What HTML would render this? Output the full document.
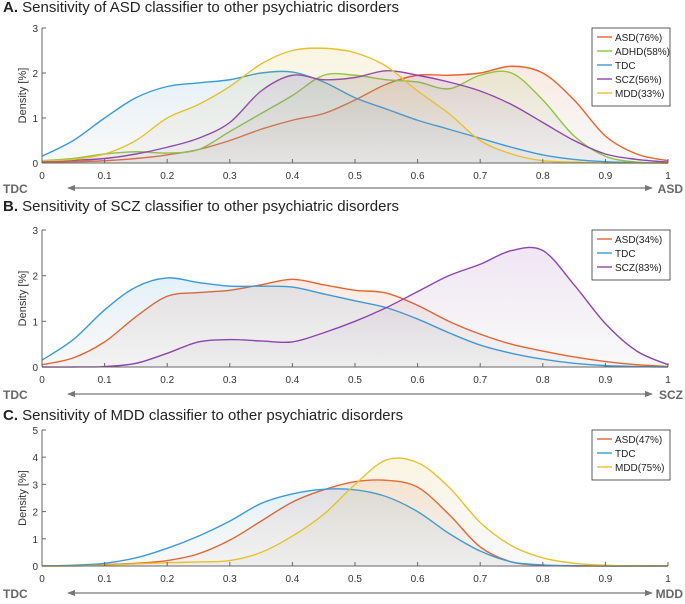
<!DOCTYPE html>
<html><head><meta charset="utf-8"><style>
body{margin:0;background:#fff;font-family:"Liberation Sans",sans-serif}
svg text{font-family:"Liberation Sans",sans-serif}
</style></head><body>
<svg id="s" width="685" height="599" xmlns="http://www.w3.org/2000/svg">
<defs>
<marker id="ah" viewBox="0 0 10 10" refX="9" refY="5" markerWidth="6" markerHeight="6" orient="auto-start-reverse"><path d="M0,1 L10,5 L0,9 z" fill="#777"/></marker>
</defs>
</svg>
<script>
const xs=[0,0.05,0.1,0.15,0.2,0.25,0.3,0.35,0.4,0.45,0.5,0.55,0.6,0.65,0.7,0.75,0.8,0.85,0.9,0.95,1];
const xTicks=[0,0.1,0.2,0.3,0.4,0.5,0.6,0.7,0.8,0.9,1];
const xTickLabels=['0','0.1','0.2','0.3','0.4','0.5','0.6','0.7','0.8','0.9','1'];
const aASD=[0.02,0.03,0.05,0.1,0.18,0.3,0.5,0.75,0.95,1.1,1.4,1.75,1.95,1.95,2.0,2.15,2.0,1.4,0.6,0.2,0.05];
const aADHD=[0.05,0.1,0.2,0.25,0.22,0.3,0.7,1.1,1.5,1.95,1.95,1.85,1.8,1.65,1.95,2.0,1.4,0.6,0.15,0.02,0];
const aTDC=[0.15,0.5,1.0,1.45,1.7,1.78,1.85,2.0,2.02,1.8,1.45,1.2,0.95,0.75,0.55,0.35,0.18,0.08,0.03,0.01,0];
const aSCZ=[0.03,0.06,0.1,0.2,0.35,0.55,0.9,1.6,1.95,1.85,1.9,2.05,1.95,1.8,1.6,1.3,0.9,0.5,0.2,0.08,0.02];
const aMDD=[0.05,0.08,0.2,0.5,1.0,1.3,1.7,2.2,2.5,2.55,2.45,2.15,1.6,1.1,0.5,0.2,0.05,0.02,0,0,0];
const bASD=[0.05,0.2,0.55,1.1,1.55,1.63,1.68,1.8,1.92,1.8,1.68,1.62,1.35,1.0,0.72,0.5,0.35,0.22,0.12,0.05,0.01];
const bTDC=[0.15,0.6,1.25,1.75,1.95,1.85,1.77,1.77,1.75,1.6,1.45,1.3,1.05,0.75,0.48,0.3,0.17,0.08,0.03,0.01,0];
const bSCZ=[0,0,0.01,0.08,0.3,0.55,0.6,0.57,0.55,0.75,1.0,1.3,1.65,2.0,2.25,2.55,2.55,1.8,0.95,0.35,0.05];
const cASD=[0,0.01,0.05,0.1,0.2,0.45,0.95,1.65,2.35,2.8,3.1,3.15,2.9,1.9,0.7,0.15,0.03,0,0,0,0];
const cTDC=[0,0.03,0.1,0.3,0.65,1.1,1.65,2.3,2.65,2.82,2.8,2.55,2.0,1.2,0.55,0.15,0.04,0.01,0,0,0];
const cMDD=[0,0,0.03,0.08,0.12,0.15,0.2,0.5,1.1,1.9,3.0,3.9,3.8,2.9,1.6,0.75,0.3,0.1,0.03,0,0];
const C={ASD:'#e8622c',ADHD:'#8dc63f',TDC:'#3a9ad9',SCZ:'#8e44ad',MDD:'#e6c12c'};
const NS='http://www.w3.org/2000/svg';
const svg=document.getElementById('s');
function mk(t,a,p){const e=document.createElementNS(NS,t);for(const k in a)e.setAttribute(k,a[k]);(p||svg).appendChild(e);return e;}
function path(pts){let d='M'+pts[0][0]+','+pts[0][1];for(let i=0;i<pts.length-1;i++){const p0=pts[Math.max(0,i-1)],p1=pts[i],p2=pts[i+1],p3=pts[Math.min(pts.length-1,i+2)];
d+=' C'+(p1[0]+(p2[0]-p0[0])/6)+','+(p1[1]+(p2[1]-p0[1])/6)+' '+(p2[0]-(p3[0]-p1[0])/6)+','+(p2[1]-(p3[1]-p1[1])/6)+' '+p2[0]+','+p2[1];}return d;}
let gid=0;
function panel(o){
 const g=mk('g',{});
 
 
 const x0=42,x1=668,y0=o.y0,yT=o.yT,ym=o.ymax;
 const X=v=>x0+(x1-x0)*v, Y=v=>y0-(y0-yT)*v/ym;
 const t=mk('text',{x:3,y:o.ty,'font-size':15,fill:'#222'},g);
 
 
 t.innerHTML='<tspan font-weight="bold">'+o.letter+'</tspan> '+o.title;
 o.series.forEach(s=>{
  const pts=xs.map((x,i)=>[X(x),Y(s.v[i])]);
  const id='g'+(gid++);
  const lg=mk('linearGradient',{id:id,x1:0,y1:0,x2:0,y2:1},svg.querySelector('defs'));
  mk('stop',{offset:0,'stop-color':C[s.k],'stop-opacity':0.14},lg);
  mk('stop',{offset:1,'stop-color':'#999','stop-opacity':0.06},lg);
  const d=path(pts);
  const f=mk('path',{d:d+' L'+X(1)+','+y0+' L'+X(0)+','+y0+' Z',fill:'url(#'+id+')'},g);
  
  
  const l=mk('path',{d:d,fill:'none',stroke:C[s.k],'stroke-width':1.4},g);
  
  
 });
 mk('line',{x1:x0,y1:yT,x2:x0,y2:y0,stroke:'#666'},g);
 mk('line',{x1:x0,y1:y0,x2:x1,y2:y0,stroke:'#666'},g);
 xTicks.forEach((v,i)=>{mk('line',{x1:X(v),y1:y0,x2:X(v),y2:y0-4,stroke:'#666'},g);
  const tl=mk('text',{x:X(v),y:y0+16,'font-size':10,'text-anchor':'middle',fill:'#333'},g);tl.textContent=xTickLabels[i];
  
  });
 for(let v=0;v<=ym;v++){mk('line',{x1:x0,y1:Y(v),x2:x0+4,y2:Y(v),stroke:'#666'},g);
  const tl=mk('text',{x:x0-4,y:Y(v)+4,'font-size':10,'text-anchor':'end',fill:'#333'},g);tl.textContent=v;
  
  }
 const yl=mk('text',{x:26,y:(y0+yT)/2,'font-size':11,'text-anchor':'middle',fill:'#333',transform:'rotate(-90 26 '+((y0+yT)/2)+')'},g);yl.textContent='Density [%]';
 
 
 const ay=o.ay;
 const a1=mk('text',{x:3,y:ay+5,'font-size':12,'font-weight':'bold',fill:'#666'},g);a1.textContent='TDC';
 
 
 const a2=mk('text',{x:683,y:ay+5,'font-size':12,'font-weight':'bold','text-anchor':'end',fill:'#666'},g);a2.textContent=o.right;
 
 
 mk('line',{x1:68,y1:ay,x2:652,y2:ay,stroke:'#777','stroke-width':1.3,'marker-start':'url(#ah)','marker-end':'url(#ah)'},g);
 const lw=78,lh=8+o.series.length*14;
 const lgd=mk('g',{},g);
 
 
 mk('rect',{x:592,y:yT,width:lw,height:lh,fill:'#fff',stroke:'#333','stroke-width':0.8},lgd);
 o.legendOrder.forEach((s,i)=>{const yy=yT+12+i*14;
  mk('line',{x1:597,y1:yy-3,x2:612,y2:yy-3,stroke:C[s.k],'stroke-width':1.4},lgd);
  const tx=mk('text',{x:615,y:yy+1,'font-size':10,fill:'#222'},lgd);tx.textContent=s.label;
  
  });
}
const A=[{k:'ASD',v:aASD,label:'ASD(76%)'},{k:'ADHD',v:aADHD,label:'ADHD(58%)'},{k:'TDC',v:aTDC,label:'TDC'},{k:'SCZ',v:aSCZ,label:'SCZ(56%)'},{k:'MDD',v:aMDD,label:'MDD(33%)'}];
panel({name:'panel-a',letter:'A.',title:'Sensitivity of ASD classifier to other psychiatric disorders',ty:12,y0:163,yT:28,ymax:3,ay:188,right:'ASD',series:A,legendOrder:A});
const B=[{k:'ASD',v:bASD,label:'ASD(34%)'},{k:'TDC',v:bTDC,label:'TDC'},{k:'SCZ',v:bSCZ,label:'SCZ(83%)'}];
panel({name:'panel-b',letter:'B.',title:'Sensitivity of SCZ classifier to other psychiatric disorders',ty:211,y0:367,yT:230,ymax:3,ay:394,right:'SCZ',series:B,legendOrder:B});
const Cc=[{k:'ASD',v:cASD,label:'ASD(47%)'},{k:'TDC',v:cTDC,label:'TDC'},{k:'MDD',v:cMDD,label:'MDD(75%)'}];
panel({name:'panel-c',letter:'C.',title:'Sensitivity of MDD classifier to other psychiatric disorders',ty:420,y0:566,yT:430,ymax:5,ay:593,right:'MDD',series:Cc,legendOrder:Cc});
</script>
</body></html>
